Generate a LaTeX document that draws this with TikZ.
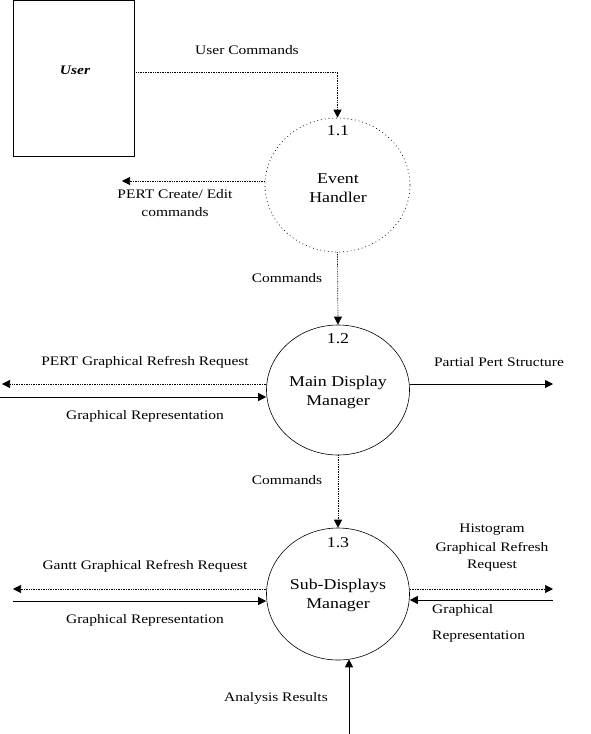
\documentclass[tikz,border=0pt]{standalone}
\usepackage{fontspec}
\setmainfont{Liberation Serif}[FakeStretch=1.19]
\usetikzlibrary{arrows.meta,shapes.geometric}
\tikzset{
  lbl/.style={font=\fontsize{13}{15}\selectfont, inner sep=0pt},
  bubble/.style={ellipse, draw, line width=0.6pt, inner sep=0pt},
  dotline/.style={line width=0.7pt, dash pattern=on 0.8pt off 0.9pt},
  solidline/.style={line width=0.8pt},
  tip/.style={-{Triangle[length=8pt,width=8pt]}},
  num/.style={font=\fontsize{15}{17}\selectfont, inner sep=0pt},
  ctext/.style={font=\fontsize{15}{19}\selectfont, align=center, inner sep=0pt}
}
\begin{document}
\begin{tikzpicture}[x=1pt,y=-1pt]
\useasboundingbox (0,0) rectangle (591,734);
% User box
\node[draw, line width=0.8pt, minimum width=121pt, minimum height=156pt, inner sep=0pt] (user) at (73.5,78) {};
\node[font=\fontsize{13}{15}\selectfont\bfseries\itshape] (usertxt) at (75,70) {User};
% processes
\node[bubble, draw=none, minimum width=145pt, minimum height=134pt] (eh) at (337.5,185) {};
\draw[line width=0.7pt, dash pattern=on 0.8pt off 3pt] (eh.center) ellipse [x radius=72.5pt, y radius=67pt];
\node[num] (n11) at (338,131) {1.1};
\node[ctext] (ehtxt) at (338,188) {Event\\Handler};

\node[bubble, minimum width=143pt, minimum height=130pt] (mdm) at (338,390) {};
\node[num] (n12) at (338,339) {1.2};
\node[ctext] (mdmtxt) at (338,392) {Main Display\\Manager};

\node[bubble, minimum width=143pt, minimum height=132pt] (sdm) at (338,594) {};
\node[num] (n13) at (338,543) {1.3};
\node[ctext] (sdmtxt) at (338,595) {Sub-Displays\\Manager};

% free ends
\coordinate (pce) at (122,181);
\coordinate (l1a) at (2,384);
\coordinate (l1b) at (0,397);
\coordinate (r1) at (553,384);
\coordinate (l2a) at (13,589);
\coordinate (l2b) at (13,601);
\coordinate (r2a) at (553,589);
\coordinate (r2b) at (553,600);
\coordinate (bt) at (349,734);

% connectors
\draw[dotline, tip] ([yshift=6pt]user.east) -| (eh.north);
\draw[dotline, tip] ([yshift=4pt]eh.west) -- (pce);
\draw[dotline, tip] (eh.south) -- (mdm.north);
\draw[dotline, tip] ([yshift=6pt]mdm.west) -- (l1a);
\draw[solidline, tip] (l1b) -- ([yshift=-7pt]mdm.west);
\draw[solidline, tip] ([yshift=6pt]mdm.east) -- (r1);
\draw[dotline, tip] (mdm.south) -- (sdm.north);
\draw[dotline, tip] ([yshift=5pt]sdm.west) -- (l2a);
\draw[solidline, tip] (l2b) -- ([yshift=-7pt]sdm.west);
\draw[dotline, tip] ([yshift=5pt]sdm.east) -- (r2a);
\draw[solidline, tip] (r2b) -- ([yshift=-6pt]sdm.east);
\draw[solidline, tip] (bt) -- ([yshift=1pt]bt |- sdm.south);

% labels
\node[lbl] (t1) at (247,50) {User Commands};
\node[lbl] (t2) at (175,194) {PERT Create/ Edit};
\node[lbl] (t3) at (175,212) {commands};
\node[lbl] (t4) at (287,278) {Commands};
\node[lbl] (t5) at (145,362) {PERT Graphical Refresh Request};
\node[lbl] (t6) at (145,416) {Graphical Representation};
\node[lbl] (t7) at (499,362) {Partial Pert Structure};
\node[lbl] (t8) at (287,480) {Commands};
\node[lbl] (t9) at (145,566) {Gantt Graphical Refresh Request};
\node[lbl] (t10) at (145,620) {Graphical Representation};
\node[lbl] (t11) at (492,530) {Histogram};
\node[lbl] (t12) at (492,548) {Graphical Refresh};
\node[lbl] (t13) at (492,566) {Request};
\node[lbl, anchor=west] (t14) at (432,610) {Graphical};
\node[lbl, anchor=west] (t15) at (432,637) {Representation};
\node[lbl] (t16) at (276,698) {Analysis Results};
\end{tikzpicture}
\end{document}
